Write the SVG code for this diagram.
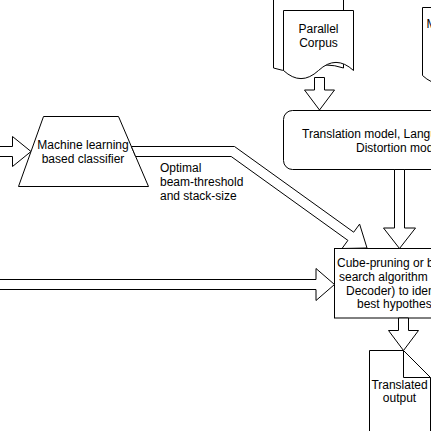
<svg xmlns="http://www.w3.org/2000/svg" width="431" height="431" viewBox="0 0 431 431">
<style>
.n{fill:#fff;stroke:#000;stroke-width:1}
.e{fill:#fff;stroke:#000;stroke-width:1;stroke-linejoin:miter}
.t{font-family:"Liberation Sans",Arial,Helvetica,sans-serif;font-size:12px;fill:#000}
.m{text-anchor:middle}
</style>
<rect width="431" height="431" fill="#fff"/>
<g id="corpus-back">
<path class="n" d="M273.5,-20 H343.5 V68 Q326,62 308.5,68 Q291,74 273.5,68 Z"/>
</g>
<g id="parallel-corpus">
<path class="n" d="M283.5,10.5 H353.5 V70.5 Q336,54.3 318.5,70.5 Q301,86.7 283.5,70.5 Z"/>
<text class="t m" x="318.5" y="33">Parallel</text>
<text class="t m" x="318.5" y="47">Corpus</text>
</g>
<g id="monolingual-doc">
<path class="n" d="M422.5,7.5 H492.5 V75.5 Q475,59.3 457.5,75.5 Q440,91.7 422.5,75.5 Z"/>
<text class="t" x="426.5" y="28">M</text>
</g>
<g id="models">
<rect class="n" x="283.5" y="110.5" width="200" height="59" rx="9" ry="9"/>
<text class="t" x="302" y="138">Translation model, Langu</text>
<text class="t" x="356" y="152">Distortion mod</text>
</g>
<g id="classifier">
<path class="n" d="M43.5,116.5 H118.5 L148.5,186.5 H18.5 Z"/>
<text class="t m" x="83" y="149">Machine learning</text>
<text class="t m" x="83" y="163">based classifier</text>
</g>
<g id="decoder">
<rect class="n" x="334.5" y="248.5" width="150" height="69.5"/>
<text class="t" x="337" y="267">Cube-pruning or b</text>
<text class="t" x="339" y="281">search algorithm</text>
<text class="t" x="346" y="294.5">Decoder) to iden</text>
<text class="t" x="357" y="308">best hypothes</text>
</g>
<g id="translated-output">
<path class="n" d="M369.5,350.5 H403.5 L430.5,377.5 V440 H369.5 Z"/>
<path fill="none" stroke="#000" d="M403.5,350.5 V377.5 H430.5"/>
<text class="t m" x="399.5" y="388.5">Translated</text>
<text class="t m" x="399.5" y="402">output</text>
</g>
<g id="connectors">
<path class="e" d="M-2,146.5 H12.5 V136.5 L31,151.5 L12.5,166.5 V156.5 H-2"/>
<path class="e" d="M131.4,146.5 H234.5 L353.7,232.2 L359.6,224.1 L367,248 L342,248.5 L347.9,240.4 L231.2,156.5 H135.6 Z"/>
<path class="e" d="M314.5,77.5 H324.5 V90 H334.5 L319.5,110 L304.5,90 H314.5 Z"/>
<path class="e" d="M394.5,169.5 H404.5 V228 H415.5 L399.5,248.5 L383.5,228 H394.5 Z"/>
<path class="e" d="M-2,279.5 H316 V268.5 L334.5,284.5 L316,300.5 V289.5 H-2"/>
<path class="e" d="M398.5,318 H408.5 V330.5 H418.5 L403.5,350.5 L388.5,330.5 H398.5 Z"/>
<text class="t" x="160" y="172">Optimal</text>
<text class="t" x="160" y="186">beam-threshold</text>
<text class="t" x="160" y="200">and stack-size</text>
</g>
</svg>
